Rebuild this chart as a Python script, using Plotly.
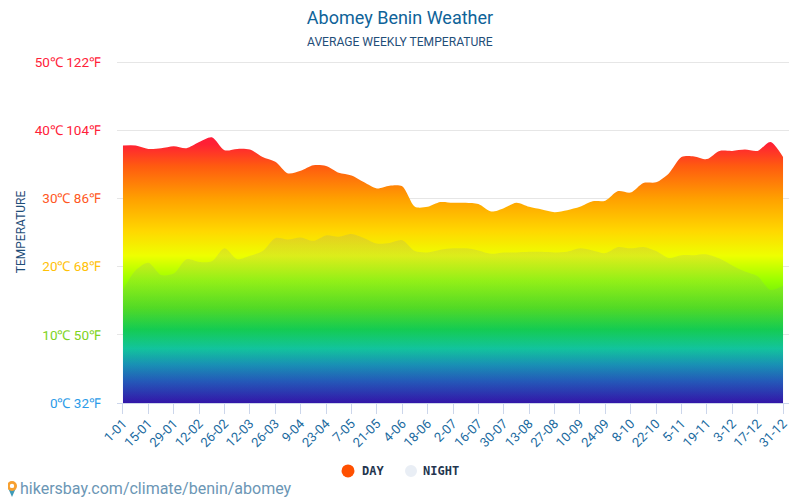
import plotly.graph_objects as go

weeks = ["1-01", "8-01", "15-01", "22-01", "29-01", "5-02", "12-02", "19-02", "26-02",
         "5-03", "12-03", "19-03", "26-03", "2-04", "9-04", "16-04", "23-04", "30-04",
         "7-05", "14-05", "21-05", "28-05", "4-06", "11-06", "18-06", "25-06", "2-07",
         "9-07", "16-07", "23-07", "30-07", "6-08", "13-08", "20-08", "27-08", "3-09",
         "10-09", "17-09", "24-09", "1-10", "8-10", "15-10", "22-10", "29-10", "5-11",
         "12-11", "19-11", "26-11", "3-12", "10-12", "17-12", "24-12", "31-12"]

day = [37.8, 37.8, 37.3, 37.4, 37.7, 37.4, 38.3, 39.0, 37.1, 37.3, 37.2, 36.1, 35.4,
       33.7, 34.1, 34.9, 34.8, 33.8, 33.4, 32.4, 31.5, 31.9, 31.8, 28.8, 28.8, 29.5,
       29.4, 29.4, 29.2, 28.1, 28.6, 29.4, 28.8, 28.4, 28.0, 28.3, 28.8, 29.6, 29.7,
       31.1, 30.9, 32.3, 32.4, 33.7, 36.1, 36.2, 35.8, 37.0, 37.0, 37.2, 37.0, 38.3, 36.1]

night = [16.6, 19.5, 20.6, 18.8, 19.0, 21.1, 20.7, 20.8, 22.7, 21.1, 21.6, 22.3, 24.2,
         24.0, 24.3, 23.8, 24.6, 24.4, 24.8, 24.2, 23.4, 23.5, 23.9, 22.3, 22.1, 22.5,
         22.7, 22.7, 22.4, 21.9, 22.1, 22.1, 22.2, 22.2, 22.1, 22.2, 22.7, 22.4, 22.0,
         22.9, 22.7, 22.9, 22.3, 21.3, 21.7, 21.7, 21.8, 21.2, 20.2, 19.3, 18.6, 16.6, 17.2]

y_ticks = [0, 10, 20, 30, 40, 50]
y_labels = ["0℃ 32℉", "10℃ 50℉", "20℃ 68℉", "30℃ 86℉", "40℃ 104℉", "50℃ 122℉"]
y_colors = ["#2b9be8", "#7ed321", "#ffc107", "#ff5722", "#ff2038", "#ff2038"]

# colours of the fill, by temperature from 0 to 40
temp_scale = [[0.0, "#3316a8"], [0.08, "#2258b8"], [0.14, "#1590b4"], [0.2, "#0cc89a"],
              [0.27, "#0cd248"], [0.35, "#50e414"], [0.45, "#99ff00"], [0.54, "#eeff00"],
              [0.63, "#ffd800"], [0.75, "#ffa000"], [0.87, "#ff5a10"], [0.95, "#ff2034"],
              [1.0, "#ff1a3c"]]

# night layer only tints the fill, fading out towards the bottom
night_scale = [[0.0, "rgba(110,130,190,0)"], [0.4, "rgba(110,130,190,0.08)"],
               [1.0, "rgba(110,130,190,0.16)"]]

# plot area in page pixels; the page body adds 8px around the figure
OFF = 8
L, R, T, B = 117, 789, 60.64, 403
Y_TOP = 50.2


def px(x):
    return (x - L) / (R - L)


def py(y):
    return (B - y) / (B - T)


fig = go.Figure()
fig.add_trace(go.Scatter(x=weeks, y=day, mode="lines", name="DAY", fill="tozeroy",
                         line=dict(width=0, shape="spline", smoothing=0.8),
                         fillgradient=dict(type="vertical", colorscale=temp_scale, start=0, stop=40)))
fig.add_trace(go.Scatter(x=weeks, y=night, mode="lines", name="NIGHT", fill="tozeroy",
                         line=dict(width=0, shape="spline", smoothing=0.8),
                         fillgradient=dict(type="vertical", colorscale=night_scale, start=0, stop=25)))

ticktext = ["<span style='color:%s'>%s</span>" % (c, t) for c, t in zip(y_colors, y_labels)]

texts = [
    dict(x=px(400), y=py(42), text="AVERAGE WEEKLY TEMPERATURE", font=dict(size=12.1, color="#1f4e79")),
    dict(x=px(21), y=py(232), text="TEMPERATURE", textangle=-90, font=dict(size=12, color="#1f4e79")),
    dict(x=px(360), y=py(471), text="DAY", xanchor="left",
         font=dict(family="DejaVu Sans Mono", size=12, color="#24364f", weight="bold")),
    dict(x=px(421), y=py(471), text="NIGHT", xanchor="left",
         font=dict(family="DejaVu Sans Mono", size=12, color="#24364f", weight="bold")),
    dict(x=px(18), y=py(489), text="hikersbay.com/climate/benin/abomey", xanchor="left",
         font=dict(size=16, color="#6b96b5")),
]
for t in texts:
    t.update(xref="paper", yref="paper", showarrow=False)
    t.setdefault("xanchor", "center")
    t["yanchor"] = "middle"


def dot(x, y, r, color):
    return dict(type="circle", xref="paper", yref="paper", x0=px(x - r), x1=px(x + r),
                y0=py(y + r), y1=py(y - r), fillcolor=color, line_width=0)


shapes = [
    dot(348, 471, 6.5, "#ff5000"),
    dot(411, 471, 6, "#e9eef5"),
    # location pin before the url
    dict(type="path", xref="paper", yref="paper", fillcolor="#3f9bb8", line_width=0,
         path="M %f %f L %f %f L %f %f Z" % (px(8.5), py(489), px(12), py(497), px(15.5), py(489))),
    dot(12, 486, 5, "#f7a030"),
    dot(12, 486, 2.2, "#ffffff"),
]

W, H = 800 - OFF, 500 - OFF
fig.update_layout(
    width=W, height=H,
    margin=dict(l=L - OFF, r=800 - R, t=T - OFF, b=500 - B),
    paper_bgcolor="white", plot_bgcolor="white",
    font=dict(family="Roboto"),
    showlegend=False,
    title=dict(text="Abomey Benin Weather", x=(400 - OFF) / W, xanchor="center",
               y=1 - (18 - OFF) / H, yanchor="middle",
               font=dict(size=18, color="#0f6399")),
    annotations=texts,
    shapes=shapes,
)
fig.update_xaxes(type="category", range=[-0.47, 52.47], tickmode="array",
                 tickvals=weeks[::2], ticktext=weeks[::2], tickangle=-45,
                 tickfont=dict(size=13, color="#1a6aa0"),
                 showgrid=False, showline=True, linecolor="#ccd6eb", linewidth=1,
                 ticks="outside", ticklen=10, tickcolor="#ccd6eb", tickwidth=1,
                 ticklabelstandoff=-3)
fig.update_yaxes(range=[0, Y_TOP], tickmode="array", tickvals=y_ticks, ticktext=ticktext,
                 tickfont=dict(size=13.5), showgrid=True, gridcolor="#e6e6e6", gridwidth=1,
                 zeroline=False, showline=False, ticks="", ticklabelstandoff=15)

fig.write_html("out.html")
